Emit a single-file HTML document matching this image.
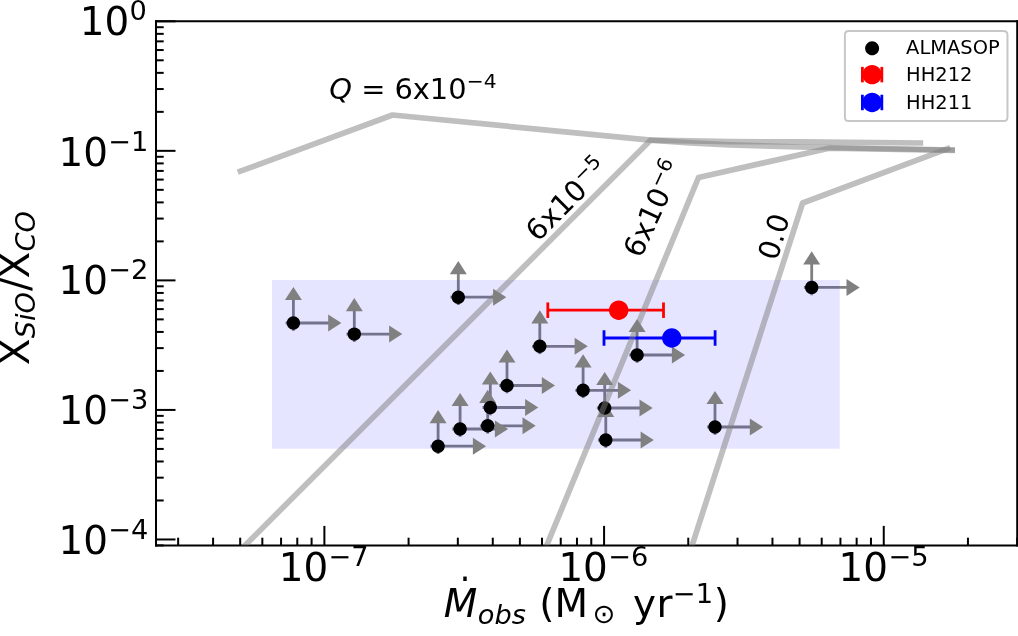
<!DOCTYPE html>
<html><head><meta charset="utf-8"><title>plot</title>
<style>html,body{margin:0;padding:0;background:#fff;}body{width:1018px;height:636px;overflow:hidden;}svg{display:block;}
text{font-family:"DejaVu Sans",sans-serif;}</style></head>
<body>
<svg width="1018" height="636" viewBox="0 0 732.96 457.92" version="1.1"> <defs> <style type="text/css">*{stroke-linejoin: round; stroke-linecap: butt}</style> </defs> <g id="figure_1"> <g id="patch_1"> <path d="M 0 457.92 L 732.96 457.92 L 732.96 0 L 0 0 z " style="fill: #ffffff"/> </g> <g id="axes_1"> <g id="patch_2"> <path d="M 112.32 392.688 L 732.384 392.688 L 732.384 15.336 L 112.32 15.336 z " style="fill: #ffffff"/> </g> <g id="line2d_1"> <path d="M 211.248 238.176 L 211.248 215.352 " clip-path="url(#p5d5865114e)" style="fill: none; stroke: #808080; stroke-width: 2.016"/> </g> <g id="line2d_2"> <path d="M 205.632 232.56 L 237.024 232.56 " clip-path="url(#p5d5865114e)" style="fill: none; stroke: #808080; stroke-width: 2.016"/> </g> <g id="line2d_3"> <path d="M 255.096 246.168 L 255.096 223.344 " clip-path="url(#p5d5865114e)" style="fill: none; stroke: #808080; stroke-width: 2.016"/> </g> <g id="line2d_4"> <path d="M 249.48 240.552 L 280.872 240.552 " clip-path="url(#p5d5865114e)" style="fill: none; stroke: #808080; stroke-width: 2.016"/> </g> <g id="line2d_5"> <path d="M 329.976 219.6 L 329.976 196.776 " clip-path="url(#p5d5865114e)" style="fill: none; stroke: #808080; stroke-width: 2.016"/> </g> <g id="line2d_6"> <path d="M 324.36 213.984 L 355.752 213.984 " clip-path="url(#p5d5865114e)" style="fill: none; stroke: #808080; stroke-width: 2.016"/> </g> <g id="line2d_7"> <path d="M 388.656 254.952 L 388.656 232.128 " clip-path="url(#p5d5865114e)" style="fill: none; stroke: #808080; stroke-width: 2.016"/> </g> <g id="line2d_8"> <path d="M 383.04 249.336 L 414.432 249.336 " clip-path="url(#p5d5865114e)" style="fill: none; stroke: #808080; stroke-width: 2.016"/> </g> <g id="line2d_9"> <path d="M 365.04 283.176 L 365.04 260.352 " clip-path="url(#p5d5865114e)" style="fill: none; stroke: #808080; stroke-width: 2.016"/> </g> <g id="line2d_10"> <path d="M 359.424 277.56 L 390.816 277.56 " clip-path="url(#p5d5865114e)" style="fill: none; stroke: #808080; stroke-width: 2.016"/> </g> <g id="line2d_11"> <path d="M 353.016 299.016 L 353.016 276.192 " clip-path="url(#p5d5865114e)" style="fill: none; stroke: #808080; stroke-width: 2.016"/> </g> <g id="line2d_12"> <path d="M 347.4 293.4 L 378.792 293.4 " clip-path="url(#p5d5865114e)" style="fill: none; stroke: #808080; stroke-width: 2.016"/> </g> <g id="line2d_13"> <path d="M 331.272 314.496 L 331.272 291.672 " clip-path="url(#p5d5865114e)" style="fill: none; stroke: #808080; stroke-width: 2.016"/> </g> <g id="line2d_14"> <path d="M 325.656 308.88 L 357.048 308.88 " clip-path="url(#p5d5865114e)" style="fill: none; stroke: #808080; stroke-width: 2.016"/> </g> <g id="line2d_15"> <path d="M 315.432 326.88 L 315.432 304.056 " clip-path="url(#p5d5865114e)" style="fill: none; stroke: #808080; stroke-width: 2.016"/> </g> <g id="line2d_16"> <path d="M 309.816 321.264 L 341.208 321.264 " clip-path="url(#p5d5865114e)" style="fill: none; stroke: #808080; stroke-width: 2.016"/> </g> <g id="line2d_17"> <path d="M 351.144 312.192 L 351.144 289.368 " clip-path="url(#p5d5865114e)" style="fill: none; stroke: #808080; stroke-width: 2.016"/> </g> <g id="line2d_18"> <path d="M 345.528 306.576 L 376.92 306.576 " clip-path="url(#p5d5865114e)" style="fill: none; stroke: #808080; stroke-width: 2.016"/> </g> <g id="line2d_19"> <path d="M 419.832 286.632 L 419.832 263.808 " clip-path="url(#p5d5865114e)" style="fill: none; stroke: #808080; stroke-width: 2.016"/> </g> <g id="line2d_20"> <path d="M 414.216 281.016 L 445.608 281.016 " clip-path="url(#p5d5865114e)" style="fill: none; stroke: #808080; stroke-width: 2.016"/> </g> <g id="line2d_21"> <path d="M 435.384 299.376 L 435.384 276.552 " clip-path="url(#p5d5865114e)" style="fill: none; stroke: #808080; stroke-width: 2.016"/> </g> <g id="line2d_22"> <path d="M 429.768 293.76 L 461.16 293.76 " clip-path="url(#p5d5865114e)" style="fill: none; stroke: #808080; stroke-width: 2.016"/> </g> <g id="line2d_23"> <path d="M 436.176 322.416 L 436.176 299.592 " clip-path="url(#p5d5865114e)" style="fill: none; stroke: #808080; stroke-width: 2.016"/> </g> <g id="line2d_24"> <path d="M 430.56 316.8 L 461.952 316.8 " clip-path="url(#p5d5865114e)" style="fill: none; stroke: #808080; stroke-width: 2.016"/> </g> <g id="line2d_25"> <path d="M 458.712 261.216 L 458.712 238.392 " clip-path="url(#p5d5865114e)" style="fill: none; stroke: #808080; stroke-width: 2.016"/> </g> <g id="line2d_26"> <path d="M 453.096 255.6 L 484.488 255.6 " clip-path="url(#p5d5865114e)" style="fill: none; stroke: #808080; stroke-width: 2.016"/> </g> <g id="line2d_27"> <path d="M 514.8 313.056 L 514.8 290.232 " clip-path="url(#p5d5865114e)" style="fill: none; stroke: #808080; stroke-width: 2.016"/> </g> <g id="line2d_28"> <path d="M 509.184 307.44 L 540.576 307.44 " clip-path="url(#p5d5865114e)" style="fill: none; stroke: #808080; stroke-width: 2.016"/> </g> <g id="line2d_29"> <path d="M 584.424 212.544 L 584.424 189.72 " clip-path="url(#p5d5865114e)" style="fill: none; stroke: #808080; stroke-width: 2.016"/> </g> <g id="line2d_30"> <path d="M 578.808 206.928 L 610.2 206.928 " clip-path="url(#p5d5865114e)" style="fill: none; stroke: #808080; stroke-width: 2.016"/> </g> <g id="matplotlib.axis_1"> <g id="xtick_1"> <g id="line2d_31"> <g> <path d="M 0 0 L 0 -14.04 " transform="translate(233.558633 392.688)" style="stroke: #000000; stroke-width: 1.44"/> </g> </g> <g id="text_1"> <g transform="translate(200.6586 419.5076)"> <text> <tspan x="0" y="-0.996875" style="font-size: 28px; font-family: 'DejaVu Sans', sans-serif">1</tspan> <tspan x="17.814453" y="-0.996875" style="font-size: 28px; font-family: 'DejaVu Sans', sans-serif">0</tspan> <tspan x="35.896875" y="-11.715625" style="font-size: 19.6px; font-family: 'DejaVu Sans', sans-serif">−</tspan> <tspan x="52.319531" y="-11.715625" style="font-size: 19.6px; font-family: 'DejaVu Sans', sans-serif">7</tspan> </text> </g> </g> </g> <g id="xtick_2"> <g id="line2d_32"> <g> <path d="M 0 0 L 0 -14.04 " transform="translate(434.931645 392.688)" style="stroke: #000000; stroke-width: 1.44"/> </g> </g> <g id="text_2"> <g transform="translate(402.0316 419.0756)"> <text> <tspan x="0" y="-0.734375" style="font-size: 28px; font-family: 'DejaVu Sans', sans-serif">1</tspan> <tspan x="17.814453" y="-0.734375" style="font-size: 28px; font-family: 'DejaVu Sans', sans-serif">0</tspan> <tspan x="35.896875" y="-11.453125" style="font-size: 19.6px; font-family: 'DejaVu Sans', sans-serif">−</tspan> <tspan x="52.319531" y="-11.453125" style="font-size: 19.6px; font-family: 'DejaVu Sans', sans-serif">6</tspan> </text> </g> </g> </g> <g id="xtick_3"> <g id="line2d_33"> <g> <path d="M 0 0 L 0 -14.04 " transform="translate(636.304656 392.688)" style="stroke: #000000; stroke-width: 1.44"/> </g> </g> <g id="text_3"> <g transform="translate(603.7647 419.0756)"> <text> <tspan x="0" y="-0.996875" style="font-size: 28px; font-family: 'DejaVu Sans', sans-serif">1</tspan> <tspan x="17.814453" y="-0.996875" style="font-size: 28px; font-family: 'DejaVu Sans', sans-serif">0</tspan> <tspan x="35.896875" y="-11.715625" style="font-size: 19.6px; font-family: 'DejaVu Sans', sans-serif">−</tspan> <tspan x="52.319531" y="-11.715625" style="font-size: 19.6px; font-family: 'DejaVu Sans', sans-serif">5</tspan> </text> </g> </g> </g> <g id="xtick_4"> <g id="line2d_34"> <g> <path d="M 0 0 L 0 -5.544 " transform="translate(128.264966 392.688)" style="stroke: #000000; stroke-width: 1.44"/> </g> </g> </g> <g id="xtick_5"> <g id="line2d_35"> <g> <path d="M 0 0 L 0 -5.544 " transform="translate(153.424256 392.688)" style="stroke: #000000; stroke-width: 1.44"/> </g> </g> </g> <g id="xtick_6"> <g id="line2d_36"> <g> <path d="M 0 0 L 0 -5.544 " transform="translate(172.939317 392.688)" style="stroke: #000000; stroke-width: 1.44"/> </g> </g> </g> <g id="xtick_7"> <g id="line2d_37"> <g> <path d="M 0 0 L 0 -5.544 " transform="translate(188.884283 392.688)" style="stroke: #000000; stroke-width: 1.44"/> </g> </g> </g> <g id="xtick_8"> <g id="line2d_38"> <g> <path d="M 0 0 L 0 -5.544 " transform="translate(202.365559 392.688)" style="stroke: #000000; stroke-width: 1.44"/> </g> </g> </g> <g id="xtick_9"> <g id="line2d_39"> <g> <path d="M 0 0 L 0 -5.544 " transform="translate(214.043572 392.688)" style="stroke: #000000; stroke-width: 1.44"/> </g> </g> </g> <g id="xtick_10"> <g id="line2d_40"> <g> <path d="M 0 0 L 0 -5.544 " transform="translate(224.34431 392.688)" style="stroke: #000000; stroke-width: 1.44"/> </g> </g> </g> <g id="xtick_11"> <g id="line2d_41"> <g> <path d="M 0 0 L 0 -5.544 " transform="translate(294.17795 392.688)" style="stroke: #000000; stroke-width: 1.44"/> </g> </g> </g> <g id="xtick_12"> <g id="line2d_42"> <g> <path d="M 0 0 L 0 -5.544 " transform="translate(329.637977 392.688)" style="stroke: #000000; stroke-width: 1.44"/> </g> </g> </g> <g id="xtick_13"> <g id="line2d_43"> <g> <path d="M 0 0 L 0 -5.544 " transform="translate(354.797267 392.688)" style="stroke: #000000; stroke-width: 1.44"/> </g> </g> </g> <g id="xtick_14"> <g id="line2d_44"> <g> <path d="M 0 0 L 0 -5.544 " transform="translate(374.312328 392.688)" style="stroke: #000000; stroke-width: 1.44"/> </g> </g> </g> <g id="xtick_15"> <g id="line2d_45"> <g> <path d="M 0 0 L 0 -5.544 " transform="translate(390.257294 392.688)" style="stroke: #000000; stroke-width: 1.44"/> </g> </g> </g> <g id="xtick_16"> <g id="line2d_46"> <g> <path d="M 0 0 L 0 -5.544 " transform="translate(403.738571 392.688)" style="stroke: #000000; stroke-width: 1.44"/> </g> </g> </g> <g id="xtick_17"> <g id="line2d_47"> <g> <path d="M 0 0 L 0 -5.544 " transform="translate(415.416584 392.688)" style="stroke: #000000; stroke-width: 1.44"/> </g> </g> </g> <g id="xtick_18"> <g id="line2d_48"> <g> <path d="M 0 0 L 0 -5.544 " transform="translate(425.717321 392.688)" style="stroke: #000000; stroke-width: 1.44"/> </g> </g> </g> <g id="xtick_19"> <g id="line2d_49"> <g> <path d="M 0 0 L 0 -5.544 " transform="translate(495.550962 392.688)" style="stroke: #000000; stroke-width: 1.44"/> </g> </g> </g> <g id="xtick_20"> <g id="line2d_50"> <g> <path d="M 0 0 L 0 -5.544 " transform="translate(531.010989 392.688)" style="stroke: #000000; stroke-width: 1.44"/> </g> </g> </g> <g id="xtick_21"> <g id="line2d_51"> <g> <path d="M 0 0 L 0 -5.544 " transform="translate(556.170278 392.688)" style="stroke: #000000; stroke-width: 1.44"/> </g> </g> </g> <g id="xtick_22"> <g id="line2d_52"> <g> <path d="M 0 0 L 0 -5.544 " transform="translate(575.685339 392.688)" style="stroke: #000000; stroke-width: 1.44"/> </g> </g> </g> <g id="xtick_23"> <g id="line2d_53"> <g> <path d="M 0 0 L 0 -5.544 " transform="translate(591.630305 392.688)" style="stroke: #000000; stroke-width: 1.44"/> </g> </g> </g> <g id="xtick_24"> <g id="line2d_54"> <g> <path d="M 0 0 L 0 -5.544 " transform="translate(605.111582 392.688)" style="stroke: #000000; stroke-width: 1.44"/> </g> </g> </g> <g id="xtick_25"> <g id="line2d_55"> <g> <path d="M 0 0 L 0 -5.544 " transform="translate(616.789595 392.688)" style="stroke: #000000; stroke-width: 1.44"/> </g> </g> </g> <g id="xtick_26"> <g id="line2d_56"> <g> <path d="M 0 0 L 0 -5.544 " transform="translate(627.090332 392.688)" style="stroke: #000000; stroke-width: 1.44"/> </g> </g> </g> <g id="xtick_27"> <g id="line2d_57"> <g> <path d="M 0 0 L 0 -5.544 " transform="translate(696.923973 392.688)" style="stroke: #000000; stroke-width: 1.44"/> </g> </g> </g> <g id="xtick_28"> <g id="line2d_58"> <g> <path d="M 0 0 L 0 -5.544 " transform="translate(732.384 392.688)" style="stroke: #000000; stroke-width: 1.44"/> </g> </g> </g> <g id="text_4"> <g transform="translate(319.54 445.04275)"> <text> <tspan x="22.3208" y="-8.7188" style="font-size: 28px; font-family: 'DejaVu Sans', sans-serif">̇</tspan> <tspan x="59.8363" y="-0.5000" style="font-size: 28px; font-family: 'DejaVu Sans', sans-serif"> </tspan> <tspan x="68.7367" y="-0.5000" style="font-size: 28px; font-family: 'DejaVu Sans', sans-serif">(</tspan> <tspan x="79.6605" y="-0.5000" style="font-size: 28px; font-family: 'DejaVu Sans', sans-serif">M</tspan> <tspan x="128.9121" y="-0.5000" style="font-size: 28px; font-family: 'DejaVu Sans', sans-serif"> </tspan> <tspan x="136.2125" y="-0.5000" style="font-size: 28px; font-family: 'DejaVu Sans', sans-serif">y</tspan> <tspan x="153.0828" y="-0.5000" style="font-size: 28px; font-family: 'DejaVu Sans', sans-serif">r</tspan> <tspan x="194.3709" y="-0.5000" style="font-size: 28px; font-family: 'DejaVu Sans', sans-serif">)</tspan> <tspan x="0.0000" y="-0.5000" style="font-style: oblique; font-size: 28px; font-family: 'DejaVu Sans', sans-serif">M</tspan> <tspan x="24.4262" y="4.0938" style="font-style: oblique; font-size: 19.6px; font-family: 'DejaVu Sans', sans-serif">o</tspan> <tspan x="36.4178" y="4.0938" style="font-style: oblique; font-size: 19.6px; font-family: 'DejaVu Sans', sans-serif">b</tspan> <tspan x="48.8592" y="4.0938" style="font-style: oblique; font-size: 19.6px; font-family: 'DejaVu Sans', sans-serif">s</tspan> <tspan x="107.3253" y="3.5938" style="font-size: 19.6px; font-family: 'DejaVu Sans', sans-serif">⊙</tspan> <tspan x="164.7625" y="-11.2188" style="font-size: 19.6px; font-family: 'DejaVu Sans', sans-serif">−</tspan> <tspan x="181.3352" y="-11.2188" style="font-size: 19.6px; font-family: 'DejaVu Sans', sans-serif">1</tspan> </text> </g> </g> </g> <g id="matplotlib.axis_2"> <g id="ytick_1"> <g id="line2d_59"> <g> <path d="M 0 0 L 14.04 0 " transform="translate(112.32 388.420151)" style="stroke: #000000; stroke-width: 1.44"/> </g> </g> <g id="text_5"> <g transform="translate(42.0560 399.9940)"> <text> <tspan x="0" y="-0.996875" style="font-size: 28px; font-family: 'DejaVu Sans', sans-serif">1</tspan> <tspan x="17.814453" y="-0.996875" style="font-size: 28px; font-family: 'DejaVu Sans', sans-serif">0</tspan> <tspan x="35.896875" y="-11.715625" style="font-size: 19.6px; font-family: 'DejaVu Sans', sans-serif">−</tspan> <tspan x="52.319531" y="-11.715625" style="font-size: 19.6px; font-family: 'DejaVu Sans', sans-serif">4</tspan> </text> </g> </g> </g> <g id="ytick_2"> <g id="line2d_60"> <g> <path d="M 0 0 L 14.04 0 " transform="translate(112.32 295.149114)" style="stroke: #000000; stroke-width: 1.44"/> </g> </g> <g id="text_6"> <g transform="translate(42.0560 305.7869)"> <text> <tspan x="0" y="-0.734375" style="font-size: 28px; font-family: 'DejaVu Sans', sans-serif">1</tspan> <tspan x="17.814453" y="-0.734375" style="font-size: 28px; font-family: 'DejaVu Sans', sans-serif">0</tspan> <tspan x="35.896875" y="-11.453125" style="font-size: 19.6px; font-family: 'DejaVu Sans', sans-serif">−</tspan> <tspan x="52.319531" y="-11.453125" style="font-size: 19.6px; font-family: 'DejaVu Sans', sans-serif">3</tspan> </text> </g> </g> </g> <g id="ytick_3"> <g id="line2d_61"> <g> <path d="M 0 0 L 14.04 0 " transform="translate(112.32 201.878076)" style="stroke: #000000; stroke-width: 1.44"/> </g> </g> <g id="text_7"> <g transform="translate(42.0560 212.5159)"> <text> <tspan x="0" y="-0.734375" style="font-size: 28px; font-family: 'DejaVu Sans', sans-serif">1</tspan> <tspan x="17.814453" y="-0.734375" style="font-size: 28px; font-family: 'DejaVu Sans', sans-serif">0</tspan> <tspan x="35.896875" y="-11.453125" style="font-size: 19.6px; font-family: 'DejaVu Sans', sans-serif">−</tspan> <tspan x="52.319531" y="-11.453125" style="font-size: 19.6px; font-family: 'DejaVu Sans', sans-serif">2</tspan> </text> </g> </g> </g> <g id="ytick_4"> <g id="line2d_62"> <g> <path d="M 0 0 L 14.04 0 " transform="translate(112.32 108.607038)" style="stroke: #000000; stroke-width: 1.44"/> </g> </g> <g id="text_8"> <g transform="translate(42.0560 120.3969)"> <text> <tspan x="0" y="-0.996875" style="font-size: 28px; font-family: 'DejaVu Sans', sans-serif">1</tspan> <tspan x="17.814453" y="-0.996875" style="font-size: 28px; font-family: 'DejaVu Sans', sans-serif">0</tspan> <tspan x="35.896875" y="-11.715625" style="font-size: 19.6px; font-family: 'DejaVu Sans', sans-serif">−</tspan> <tspan x="52.319531" y="-11.715625" style="font-size: 19.6px; font-family: 'DejaVu Sans', sans-serif">1</tspan> </text> </g> </g> </g> <g id="ytick_5"> <g id="line2d_63"> <g> <path d="M 0 0 L 14.04 0 " transform="translate(112.32 15.336)" style="stroke: #000000; stroke-width: 1.44"/> </g> </g> <g id="text_9"> <g transform="translate(57.4240 25.9738)"> <text> <tspan x="0" y="-0.734375" style="font-size: 28px; font-family: 'DejaVu Sans', sans-serif">1</tspan> <tspan x="17.814453" y="-0.734375" style="font-size: 28px; font-family: 'DejaVu Sans', sans-serif">0</tspan> <tspan x="35.896875" y="-11.453125" style="font-size: 19.6px; font-family: 'DejaVu Sans', sans-serif">0</tspan> </text> </g> </g> </g> <g id="ytick_6"> <g id="line2d_64"> <g> <path d="M 0 0 L 5.544 0 " transform="translate(112.32 392.688)" style="stroke: #000000; stroke-width: 1.44"/> </g> </g> </g> <g id="ytick_7"> <g id="line2d_65"> <g> <path d="M 0 0 L 5.544 0 " transform="translate(112.32 360.342771)" style="stroke: #000000; stroke-width: 1.44"/> </g> </g> </g> <g id="ytick_8"> <g id="line2d_66"> <g> <path d="M 0 0 L 5.544 0 " transform="translate(112.32 343.918557)" style="stroke: #000000; stroke-width: 1.44"/> </g> </g> </g> <g id="ytick_9"> <g id="line2d_67"> <g> <path d="M 0 0 L 5.544 0 " transform="translate(112.32 332.265391)" style="stroke: #000000; stroke-width: 1.44"/> </g> </g> </g> <g id="ytick_10"> <g id="line2d_68"> <g> <path d="M 0 0 L 5.544 0 " transform="translate(112.32 323.226494)" style="stroke: #000000; stroke-width: 1.44"/> </g> </g> </g> <g id="ytick_11"> <g id="line2d_69"> <g> <path d="M 0 0 L 5.544 0 " transform="translate(112.32 315.841177)" style="stroke: #000000; stroke-width: 1.44"/> </g> </g> </g> <g id="ytick_12"> <g id="line2d_70"> <g> <path d="M 0 0 L 5.544 0 " transform="translate(112.32 309.59698)" style="stroke: #000000; stroke-width: 1.44"/> </g> </g> </g> <g id="ytick_13"> <g id="line2d_71"> <g> <path d="M 0 0 L 5.544 0 " transform="translate(112.32 304.188011)" style="stroke: #000000; stroke-width: 1.44"/> </g> </g> </g> <g id="ytick_14"> <g id="line2d_72"> <g> <path d="M 0 0 L 5.544 0 " transform="translate(112.32 299.416962)" style="stroke: #000000; stroke-width: 1.44"/> </g> </g> </g> <g id="ytick_15"> <g id="line2d_73"> <g> <path d="M 0 0 L 5.544 0 " transform="translate(112.32 267.071733)" style="stroke: #000000; stroke-width: 1.44"/> </g> </g> </g> <g id="ytick_16"> <g id="line2d_74"> <g> <path d="M 0 0 L 5.544 0 " transform="translate(112.32 250.647519)" style="stroke: #000000; stroke-width: 1.44"/> </g> </g> </g> <g id="ytick_17"> <g id="line2d_75"> <g> <path d="M 0 0 L 5.544 0 " transform="translate(112.32 238.994353)" style="stroke: #000000; stroke-width: 1.44"/> </g> </g> </g> <g id="ytick_18"> <g id="line2d_76"> <g> <path d="M 0 0 L 5.544 0 " transform="translate(112.32 229.955456)" style="stroke: #000000; stroke-width: 1.44"/> </g> </g> </g> <g id="ytick_19"> <g id="line2d_77"> <g> <path d="M 0 0 L 5.544 0 " transform="translate(112.32 222.570139)" style="stroke: #000000; stroke-width: 1.44"/> </g> </g> </g> <g id="ytick_20"> <g id="line2d_78"> <g> <path d="M 0 0 L 5.544 0 " transform="translate(112.32 216.325942)" style="stroke: #000000; stroke-width: 1.44"/> </g> </g> </g> <g id="ytick_21"> <g id="line2d_79"> <g> <path d="M 0 0 L 5.544 0 " transform="translate(112.32 210.916973)" style="stroke: #000000; stroke-width: 1.44"/> </g> </g> </g> <g id="ytick_22"> <g id="line2d_80"> <g> <path d="M 0 0 L 5.544 0 " transform="translate(112.32 206.145924)" style="stroke: #000000; stroke-width: 1.44"/> </g> </g> </g> <g id="ytick_23"> <g id="line2d_81"> <g> <path d="M 0 0 L 5.544 0 " transform="translate(112.32 173.800696)" style="stroke: #000000; stroke-width: 1.44"/> </g> </g> </g> <g id="ytick_24"> <g id="line2d_82"> <g> <path d="M 0 0 L 5.544 0 " transform="translate(112.32 157.376481)" style="stroke: #000000; stroke-width: 1.44"/> </g> </g> </g> <g id="ytick_25"> <g id="line2d_83"> <g> <path d="M 0 0 L 5.544 0 " transform="translate(112.32 145.723315)" style="stroke: #000000; stroke-width: 1.44"/> </g> </g> </g> <g id="ytick_26"> <g id="line2d_84"> <g> <path d="M 0 0 L 5.544 0 " transform="translate(112.32 136.684418)" style="stroke: #000000; stroke-width: 1.44"/> </g> </g> </g> <g id="ytick_27"> <g id="line2d_85"> <g> <path d="M 0 0 L 5.544 0 " transform="translate(112.32 129.299101)" style="stroke: #000000; stroke-width: 1.44"/> </g> </g> </g> <g id="ytick_28"> <g id="line2d_86"> <g> <path d="M 0 0 L 5.544 0 " transform="translate(112.32 123.054904)" style="stroke: #000000; stroke-width: 1.44"/> </g> </g> </g> <g id="ytick_29"> <g id="line2d_87"> <g> <path d="M 0 0 L 5.544 0 " transform="translate(112.32 117.645935)" style="stroke: #000000; stroke-width: 1.44"/> </g> </g> </g> <g id="ytick_30"> <g id="line2d_88"> <g> <path d="M 0 0 L 5.544 0 " transform="translate(112.32 112.874886)" style="stroke: #000000; stroke-width: 1.44"/> </g> </g> </g> <g id="ytick_31"> <g id="line2d_89"> <g> <path d="M 0 0 L 5.544 0 " transform="translate(112.32 80.529658)" style="stroke: #000000; stroke-width: 1.44"/> </g> </g> </g> <g id="ytick_32"> <g id="line2d_90"> <g> <path d="M 0 0 L 5.544 0 " transform="translate(112.32 64.105443)" style="stroke: #000000; stroke-width: 1.44"/> </g> </g> </g> <g id="ytick_33"> <g id="line2d_91"> <g> <path d="M 0 0 L 5.544 0 " transform="translate(112.32 52.452278)" style="stroke: #000000; stroke-width: 1.44"/> </g> </g> </g> <g id="ytick_34"> <g id="line2d_92"> <g> <path d="M 0 0 L 5.544 0 " transform="translate(112.32 43.41338)" style="stroke: #000000; stroke-width: 1.44"/> </g> </g> </g> <g id="ytick_35"> <g id="line2d_93"> <g> <path d="M 0 0 L 5.544 0 " transform="translate(112.32 36.028063)" style="stroke: #000000; stroke-width: 1.44"/> </g> </g> </g> <g id="ytick_36"> <g id="line2d_94"> <g> <path d="M 0 0 L 5.544 0 " transform="translate(112.32 29.783867)" style="stroke: #000000; stroke-width: 1.44"/> </g> </g> </g> <g id="ytick_37"> <g id="line2d_95"> <g> <path d="M 0 0 L 5.544 0 " transform="translate(112.32 24.374897)" style="stroke: #000000; stroke-width: 1.44"/> </g> </g> </g> <g id="ytick_38"> <g id="line2d_96"> <g> <path d="M 0 0 L 5.544 0 " transform="translate(112.32 19.603849)" style="stroke: #000000; stroke-width: 1.44"/> </g> </g> </g> <g id="text_10"> <g transform="translate(21.360875 263.036) rotate(-90)"> <text> <tspan x="0" y="-0.59375" style="font-size: 28px; font-family: 'DejaVu Sans', sans-serif">X</tspan> <tspan x="53.529492" y="-0.59375" style="font-size: 28px; font-family: 'DejaVu Sans', sans-serif">/</tspan> <tspan x="62.463086" y="-0.59375" style="font-size: 28px; font-family: 'DejaVu Sans', sans-serif">X</tspan> <tspan x="19.449609" y="4" style="font-style: oblique; font-size: 19.6px; font-family: 'DejaVu Sans', sans-serif">S</tspan> <tspan x="31.891016" y="4" style="font-style: oblique; font-size: 19.6px; font-family: 'DejaVu Sans', sans-serif">i</tspan> <tspan x="37.336523" y="4" style="font-style: oblique; font-size: 19.6px; font-family: 'DejaVu Sans', sans-serif">O</tspan> <tspan x="81.912695" y="4" style="font-style: oblique; font-size: 19.6px; font-family: 'DejaVu Sans', sans-serif">C</tspan> <tspan x="95.598242" y="4" style="font-style: oblique; font-size: 19.6px; font-family: 'DejaVu Sans', sans-serif">O</tspan> </text> </g> </g> </g> <g id="patch_3"> <path d="M 195.84 323.136 L 604.656 323.136 L 604.656 201.6 L 195.84 201.6 z " clip-path="url(#p5d5865114e)" style="fill: #0000ff; opacity: 0.1"/> </g> <g id="patch_4"> <path d="M 205.128 216.072 L 217.368 216.072 L 211.248 206.568 z " clip-path="url(#p5d5865114e)" style="fill: #808080"/> </g> <g id="patch_5"> <path d="M 236.304 226.44 L 236.304 238.68 L 245.808 232.56 z " clip-path="url(#p5d5865114e)" style="fill: #808080"/> </g> <g id="patch_6"> <path d="M 248.976 224.064 L 261.216 224.064 L 255.096 214.56 z " clip-path="url(#p5d5865114e)" style="fill: #808080"/> </g> <g id="patch_7"> <path d="M 280.152 234.432 L 280.152 246.672 L 289.656 240.552 z " clip-path="url(#p5d5865114e)" style="fill: #808080"/> </g> <g id="patch_8"> <path d="M 323.856 197.496 L 336.096 197.496 L 329.976 187.992 z " clip-path="url(#p5d5865114e)" style="fill: #808080"/> </g> <g id="patch_9"> <path d="M 355.032 207.864 L 355.032 220.104 L 364.536 213.984 z " clip-path="url(#p5d5865114e)" style="fill: #808080"/> </g> <g id="patch_10"> <path d="M 382.536 232.848 L 394.776 232.848 L 388.656 223.344 z " clip-path="url(#p5d5865114e)" style="fill: #808080"/> </g> <g id="patch_11"> <path d="M 413.712 243.216 L 413.712 255.456 L 423.216 249.336 z " clip-path="url(#p5d5865114e)" style="fill: #808080"/> </g> <g id="patch_12"> <path d="M 358.92 261.072 L 371.16 261.072 L 365.04 251.568 z " clip-path="url(#p5d5865114e)" style="fill: #808080"/> </g> <g id="patch_13"> <path d="M 390.096 271.44 L 390.096 283.68 L 399.6 277.56 z " clip-path="url(#p5d5865114e)" style="fill: #808080"/> </g> <g id="patch_14"> <path d="M 346.896 276.912 L 359.136 276.912 L 353.016 267.408 z " clip-path="url(#p5d5865114e)" style="fill: #808080"/> </g> <g id="patch_15"> <path d="M 378.072 287.28 L 378.072 299.52 L 387.576 293.4 z " clip-path="url(#p5d5865114e)" style="fill: #808080"/> </g> <g id="patch_16"> <path d="M 325.152 292.392 L 337.392 292.392 L 331.272 282.888 z " clip-path="url(#p5d5865114e)" style="fill: #808080"/> </g> <g id="patch_17"> <path d="M 356.328 302.76 L 356.328 315 L 365.832 308.88 z " clip-path="url(#p5d5865114e)" style="fill: #808080"/> </g> <g id="patch_18"> <path d="M 309.312 304.776 L 321.552 304.776 L 315.432 295.272 z " clip-path="url(#p5d5865114e)" style="fill: #808080"/> </g> <g id="patch_19"> <path d="M 340.488 315.144 L 340.488 327.384 L 349.992 321.264 z " clip-path="url(#p5d5865114e)" style="fill: #808080"/> </g> <g id="patch_20"> <path d="M 345.024 290.088 L 357.264 290.088 L 351.144 280.584 z " clip-path="url(#p5d5865114e)" style="fill: #808080"/> </g> <g id="patch_21"> <path d="M 376.2 300.456 L 376.2 312.696 L 385.704 306.576 z " clip-path="url(#p5d5865114e)" style="fill: #808080"/> </g> <g id="patch_22"> <path d="M 413.712 264.528 L 425.952 264.528 L 419.832 255.024 z " clip-path="url(#p5d5865114e)" style="fill: #808080"/> </g> <g id="patch_23"> <path d="M 444.888 274.896 L 444.888 287.136 L 454.392 281.016 z " clip-path="url(#p5d5865114e)" style="fill: #808080"/> </g> <g id="patch_24"> <path d="M 429.264 277.272 L 441.504 277.272 L 435.384 267.768 z " clip-path="url(#p5d5865114e)" style="fill: #808080"/> </g> <g id="patch_25"> <path d="M 460.44 287.64 L 460.44 299.88 L 469.944 293.76 z " clip-path="url(#p5d5865114e)" style="fill: #808080"/> </g> <g id="patch_26"> <path d="M 430.056 300.312 L 442.296 300.312 L 436.176 290.808 z " clip-path="url(#p5d5865114e)" style="fill: #808080"/> </g> <g id="patch_27"> <path d="M 461.232 310.68 L 461.232 322.92 L 470.736 316.8 z " clip-path="url(#p5d5865114e)" style="fill: #808080"/> </g> <g id="patch_28"> <path d="M 452.592 239.112 L 464.832 239.112 L 458.712 229.608 z " clip-path="url(#p5d5865114e)" style="fill: #808080"/> </g> <g id="patch_29"> <path d="M 483.768 249.48 L 483.768 261.72 L 493.272 255.6 z " clip-path="url(#p5d5865114e)" style="fill: #808080"/> </g> <g id="patch_30"> <path d="M 508.68 290.952 L 520.92 290.952 L 514.8 281.448 z " clip-path="url(#p5d5865114e)" style="fill: #808080"/> </g> <g id="patch_31"> <path d="M 539.856 301.32 L 539.856 313.56 L 549.36 307.44 z " clip-path="url(#p5d5865114e)" style="fill: #808080"/> </g> <g id="patch_32"> <path d="M 578.304 190.44 L 590.544 190.44 L 584.424 180.936 z " clip-path="url(#p5d5865114e)" style="fill: #808080"/> </g> <g id="patch_33"> <path d="M 609.48 200.808 L 609.48 213.048 L 618.984 206.928 z " clip-path="url(#p5d5865114e)" style="fill: #808080"/> </g> <g id="patch_34"> <path d="M 112.32 392.688 L 112.32 15.336 " style="fill: none; stroke: #000000; stroke-width: 1.44; stroke-linejoin: miter; stroke-linecap: square"/> </g> <g id="patch_35"> <path d="M 732.384 392.688 L 732.384 15.336 " style="fill: none; stroke: #000000; stroke-width: 1.44; stroke-linejoin: miter; stroke-linecap: square"/> </g> <g id="patch_36"> <path d="M 112.32 392.688 L 732.384 392.688 " style="fill: none; stroke: #000000; stroke-width: 1.44; stroke-linejoin: miter; stroke-linecap: square"/> </g> <g id="patch_37"> <path d="M 112.32 15.336 L 732.384 15.336 " style="fill: none; stroke: #000000; stroke-width: 1.44; stroke-linejoin: miter; stroke-linecap: square"/> </g> <g id="LineCollection_1"> <path d="M 394.416 223.344 L 477.72 223.344 " clip-path="url(#p5d5865114e)" style="fill: none; stroke: #ff0000; stroke-width: 2.016"/> </g> <g id="line2d_97"> <g clip-path="url(#p5d5865114e)"> <path d="M 0 5.58 L 0 -5.58 " transform="translate(394.416 223.344)" style="fill: #ff0000; stroke: #ff0000; stroke-width: 2.016"/> </g> </g> <g id="line2d_98"> <g clip-path="url(#p5d5865114e)"> <path d="M 0 5.58 L 0 -5.58 " transform="translate(477.72 223.344)" style="fill: #ff0000; stroke: #ff0000; stroke-width: 2.016"/> </g> </g> <g id="LineCollection_2"> <path d="M 434.88 243.36 L 514.872 243.36 " clip-path="url(#p5d5865114e)" style="fill: none; stroke: #0000ff; stroke-width: 2.016"/> </g> <g id="line2d_99"> <g clip-path="url(#p5d5865114e)"> <path d="M 0 5.58 L 0 -5.58 " transform="translate(434.88 243.36)" style="fill: #0000ff; stroke: #0000ff; stroke-width: 2.016"/> </g> </g> <g id="line2d_100"> <g clip-path="url(#p5d5865114e)"> <path d="M 0 5.58 L 0 -5.58 " transform="translate(514.872 243.36)" style="fill: #0000ff; stroke: #0000ff; stroke-width: 2.016"/> </g> </g> <g id="line2d_101"> <g clip-path="url(#p5d5865114e)"> <path d="M 0 6.984 C 1.852178 6.984 3.628746 6.248122 4.938434 4.938434 C 6.248122 3.628746 6.984 1.852178 6.984 0 C 6.984 -1.852178 6.248122 -3.628746 4.938434 -4.938434 C 3.628746 -6.248122 1.852178 -6.984 0 -6.984 C -1.852178 -6.984 -3.628746 -6.248122 -4.938434 -4.938434 C -6.248122 -3.628746 -6.984 -1.852178 -6.984 0 C -6.984 1.852178 -6.248122 3.628746 -4.938434 4.938434 C -3.628746 6.248122 -1.852178 6.984 0 6.984 z " transform="translate(445.464 223.344)" style="fill: #ff0000"/> </g> </g> <g id="line2d_102"> <g clip-path="url(#p5d5865114e)"> <path d="M 0 6.984 C 1.852178 6.984 3.628746 6.248122 4.938434 4.938434 C 6.248122 3.628746 6.984 1.852178 6.984 0 C 6.984 -1.852178 6.248122 -3.628746 4.938434 -4.938434 C 3.628746 -6.248122 1.852178 -6.984 0 -6.984 C -1.852178 -6.984 -3.628746 -6.248122 -4.938434 -4.938434 C -6.248122 -3.628746 -6.984 -1.852178 -6.984 0 C -6.984 1.852178 -6.248122 3.628746 -4.938434 4.938434 C -3.628746 6.248122 -1.852178 6.984 0 6.984 z " transform="translate(483.696 243.36)" style="fill: #0000ff"/> </g> </g> <g id="line2d_103"> <g clip-path="url(#p5d5865114e)"> <path d="M 0 4.824 C 1.27934 4.824 2.506453 4.315713 3.411083 3.411083 C 4.315713 2.506453 4.824 1.27934 4.824 0 C 4.824 -1.27934 4.315713 -2.506453 3.411083 -3.411083 C 2.506453 -4.315713 1.27934 -4.824 0 -4.824 C -1.27934 -4.824 -2.506453 -4.315713 -3.411083 -3.411083 C -4.315713 -2.506453 -4.824 -1.27934 -4.824 0 C -4.824 1.27934 -4.315713 2.506453 -3.411083 3.411083 C -2.506453 4.315713 -1.27934 4.824 0 4.824 z " transform="translate(211.248 232.56)"/> <path d="M 0 4.824 C 1.27934 4.824 2.506453 4.315713 3.411083 3.411083 C 4.315713 2.506453 4.824 1.27934 4.824 0 C 4.824 -1.27934 4.315713 -2.506453 3.411083 -3.411083 C 2.506453 -4.315713 1.27934 -4.824 0 -4.824 C -1.27934 -4.824 -2.506453 -4.315713 -3.411083 -3.411083 C -4.315713 -2.506453 -4.824 -1.27934 -4.824 0 C -4.824 1.27934 -4.315713 2.506453 -3.411083 3.411083 C -2.506453 4.315713 -1.27934 4.824 0 4.824 z " transform="translate(255.096 240.552)"/> <path d="M 0 4.824 C 1.27934 4.824 2.506453 4.315713 3.411083 3.411083 C 4.315713 2.506453 4.824 1.27934 4.824 0 C 4.824 -1.27934 4.315713 -2.506453 3.411083 -3.411083 C 2.506453 -4.315713 1.27934 -4.824 0 -4.824 C -1.27934 -4.824 -2.506453 -4.315713 -3.411083 -3.411083 C -4.315713 -2.506453 -4.824 -1.27934 -4.824 0 C -4.824 1.27934 -4.315713 2.506453 -3.411083 3.411083 C -2.506453 4.315713 -1.27934 4.824 0 4.824 z " transform="translate(329.976 213.984)"/> <path d="M 0 4.824 C 1.27934 4.824 2.506453 4.315713 3.411083 3.411083 C 4.315713 2.506453 4.824 1.27934 4.824 0 C 4.824 -1.27934 4.315713 -2.506453 3.411083 -3.411083 C 2.506453 -4.315713 1.27934 -4.824 0 -4.824 C -1.27934 -4.824 -2.506453 -4.315713 -3.411083 -3.411083 C -4.315713 -2.506453 -4.824 -1.27934 -4.824 0 C -4.824 1.27934 -4.315713 2.506453 -3.411083 3.411083 C -2.506453 4.315713 -1.27934 4.824 0 4.824 z " transform="translate(388.656 249.336)"/> <path d="M 0 4.824 C 1.27934 4.824 2.506453 4.315713 3.411083 3.411083 C 4.315713 2.506453 4.824 1.27934 4.824 0 C 4.824 -1.27934 4.315713 -2.506453 3.411083 -3.411083 C 2.506453 -4.315713 1.27934 -4.824 0 -4.824 C -1.27934 -4.824 -2.506453 -4.315713 -3.411083 -3.411083 C -4.315713 -2.506453 -4.824 -1.27934 -4.824 0 C -4.824 1.27934 -4.315713 2.506453 -3.411083 3.411083 C -2.506453 4.315713 -1.27934 4.824 0 4.824 z " transform="translate(365.04 277.56)"/> <path d="M 0 4.824 C 1.27934 4.824 2.506453 4.315713 3.411083 3.411083 C 4.315713 2.506453 4.824 1.27934 4.824 0 C 4.824 -1.27934 4.315713 -2.506453 3.411083 -3.411083 C 2.506453 -4.315713 1.27934 -4.824 0 -4.824 C -1.27934 -4.824 -2.506453 -4.315713 -3.411083 -3.411083 C -4.315713 -2.506453 -4.824 -1.27934 -4.824 0 C -4.824 1.27934 -4.315713 2.506453 -3.411083 3.411083 C -2.506453 4.315713 -1.27934 4.824 0 4.824 z " transform="translate(353.016 293.4)"/> <path d="M 0 4.824 C 1.27934 4.824 2.506453 4.315713 3.411083 3.411083 C 4.315713 2.506453 4.824 1.27934 4.824 0 C 4.824 -1.27934 4.315713 -2.506453 3.411083 -3.411083 C 2.506453 -4.315713 1.27934 -4.824 0 -4.824 C -1.27934 -4.824 -2.506453 -4.315713 -3.411083 -3.411083 C -4.315713 -2.506453 -4.824 -1.27934 -4.824 0 C -4.824 1.27934 -4.315713 2.506453 -3.411083 3.411083 C -2.506453 4.315713 -1.27934 4.824 0 4.824 z " transform="translate(331.272 308.88)"/> <path d="M 0 4.824 C 1.27934 4.824 2.506453 4.315713 3.411083 3.411083 C 4.315713 2.506453 4.824 1.27934 4.824 0 C 4.824 -1.27934 4.315713 -2.506453 3.411083 -3.411083 C 2.506453 -4.315713 1.27934 -4.824 0 -4.824 C -1.27934 -4.824 -2.506453 -4.315713 -3.411083 -3.411083 C -4.315713 -2.506453 -4.824 -1.27934 -4.824 0 C -4.824 1.27934 -4.315713 2.506453 -3.411083 3.411083 C -2.506453 4.315713 -1.27934 4.824 0 4.824 z " transform="translate(315.432 321.264)"/> <path d="M 0 4.824 C 1.27934 4.824 2.506453 4.315713 3.411083 3.411083 C 4.315713 2.506453 4.824 1.27934 4.824 0 C 4.824 -1.27934 4.315713 -2.506453 3.411083 -3.411083 C 2.506453 -4.315713 1.27934 -4.824 0 -4.824 C -1.27934 -4.824 -2.506453 -4.315713 -3.411083 -3.411083 C -4.315713 -2.506453 -4.824 -1.27934 -4.824 0 C -4.824 1.27934 -4.315713 2.506453 -3.411083 3.411083 C -2.506453 4.315713 -1.27934 4.824 0 4.824 z " transform="translate(351.144 306.576)"/> <path d="M 0 4.824 C 1.27934 4.824 2.506453 4.315713 3.411083 3.411083 C 4.315713 2.506453 4.824 1.27934 4.824 0 C 4.824 -1.27934 4.315713 -2.506453 3.411083 -3.411083 C 2.506453 -4.315713 1.27934 -4.824 0 -4.824 C -1.27934 -4.824 -2.506453 -4.315713 -3.411083 -3.411083 C -4.315713 -2.506453 -4.824 -1.27934 -4.824 0 C -4.824 1.27934 -4.315713 2.506453 -3.411083 3.411083 C -2.506453 4.315713 -1.27934 4.824 0 4.824 z " transform="translate(419.832 281.016)"/> <path d="M 0 4.824 C 1.27934 4.824 2.506453 4.315713 3.411083 3.411083 C 4.315713 2.506453 4.824 1.27934 4.824 0 C 4.824 -1.27934 4.315713 -2.506453 3.411083 -3.411083 C 2.506453 -4.315713 1.27934 -4.824 0 -4.824 C -1.27934 -4.824 -2.506453 -4.315713 -3.411083 -3.411083 C -4.315713 -2.506453 -4.824 -1.27934 -4.824 0 C -4.824 1.27934 -4.315713 2.506453 -3.411083 3.411083 C -2.506453 4.315713 -1.27934 4.824 0 4.824 z " transform="translate(435.384 293.76)"/> <path d="M 0 4.824 C 1.27934 4.824 2.506453 4.315713 3.411083 3.411083 C 4.315713 2.506453 4.824 1.27934 4.824 0 C 4.824 -1.27934 4.315713 -2.506453 3.411083 -3.411083 C 2.506453 -4.315713 1.27934 -4.824 0 -4.824 C -1.27934 -4.824 -2.506453 -4.315713 -3.411083 -3.411083 C -4.315713 -2.506453 -4.824 -1.27934 -4.824 0 C -4.824 1.27934 -4.315713 2.506453 -3.411083 3.411083 C -2.506453 4.315713 -1.27934 4.824 0 4.824 z " transform="translate(436.176 316.8)"/> <path d="M 0 4.824 C 1.27934 4.824 2.506453 4.315713 3.411083 3.411083 C 4.315713 2.506453 4.824 1.27934 4.824 0 C 4.824 -1.27934 4.315713 -2.506453 3.411083 -3.411083 C 2.506453 -4.315713 1.27934 -4.824 0 -4.824 C -1.27934 -4.824 -2.506453 -4.315713 -3.411083 -3.411083 C -4.315713 -2.506453 -4.824 -1.27934 -4.824 0 C -4.824 1.27934 -4.315713 2.506453 -3.411083 3.411083 C -2.506453 4.315713 -1.27934 4.824 0 4.824 z " transform="translate(458.712 255.6)"/> <path d="M 0 4.824 C 1.27934 4.824 2.506453 4.315713 3.411083 3.411083 C 4.315713 2.506453 4.824 1.27934 4.824 0 C 4.824 -1.27934 4.315713 -2.506453 3.411083 -3.411083 C 2.506453 -4.315713 1.27934 -4.824 0 -4.824 C -1.27934 -4.824 -2.506453 -4.315713 -3.411083 -3.411083 C -4.315713 -2.506453 -4.824 -1.27934 -4.824 0 C -4.824 1.27934 -4.315713 2.506453 -3.411083 3.411083 C -2.506453 4.315713 -1.27934 4.824 0 4.824 z " transform="translate(514.8 307.44)"/> <path d="M 0 4.824 C 1.27934 4.824 2.506453 4.315713 3.411083 3.411083 C 4.315713 2.506453 4.824 1.27934 4.824 0 C 4.824 -1.27934 4.315713 -2.506453 3.411083 -3.411083 C 2.506453 -4.315713 1.27934 -4.824 0 -4.824 C -1.27934 -4.824 -2.506453 -4.315713 -3.411083 -3.411083 C -4.315713 -2.506453 -4.824 -1.27934 -4.824 0 C -4.824 1.27934 -4.315713 2.506453 -3.411083 3.411083 C -2.506453 4.315713 -1.27934 4.824 0 4.824 z " transform="translate(584.424 206.928)"/> </g> </g> <g id="line2d_104"> <path d="M 171.144 123.984 L 282.6 82.8 L 468.36 100.944 L 496.8 101.448 L 525.6 101.952 L 576 102.168 L 664.704 102.96 " clip-path="url(#p5d5865114e)" style="fill: none; stroke: #808080; stroke-opacity: 0.5; stroke-width: 4.104"/> </g> <g id="line2d_105"> <path d="M 137.088 432 L 468.36 100.944 L 496.8 102.888 L 525.6 104.328 L 576 105.84 L 687.6 108 " clip-path="url(#p5d5865114e)" style="fill: none; stroke: #808080; stroke-opacity: 0.5; stroke-width: 4.104"/> </g> <g id="line2d_106"> <path d="M 377.424 432 L 502.92 127.8 L 596.88 106.704 L 687.6 108.216 " clip-path="url(#p5d5865114e)" style="fill: none; stroke: #808080; stroke-opacity: 0.5; stroke-width: 4.104"/> </g> <g id="line2d_107"> <path d="M 485.64 432 L 577.872 146.16 L 684.288 106.344 " clip-path="url(#p5d5865114e)" style="fill: none; stroke: #808080; stroke-opacity: 0.5; stroke-width: 4.104"/> </g> <g id="text_11"> <g transform="translate(237.096 71.64)"> <text> <tspan x="0" y="-0.242188" style="font-style: oblique; font-size: 20.8px; font-family: 'DejaVu Sans', sans-serif">Q</tspan> <tspan x="16.33252" y="-0.242188" style="font-size: 20.8px; font-family: 'DejaVu Sans', sans-serif"> </tspan> <tspan x="22.928345" y="-0.242188" style="font-size: 20.8px; font-family: 'DejaVu Sans', sans-serif">=</tspan> <tspan x="40.314575" y="-0.242188" style="font-size: 20.8px; font-family: 'DejaVu Sans', sans-serif"> </tspan> <tspan x="46.9104" y="-0.242188" style="font-size: 20.8px; font-family: 'DejaVu Sans', sans-serif">6</tspan> <tspan x="60.112183" y="-0.242188" style="font-size: 20.8px; font-family: 'DejaVu Sans', sans-serif">x</tspan> <tspan x="72.391968" y="-0.242188" style="font-size: 20.8px; font-family: 'DejaVu Sans', sans-serif">1</tspan> <tspan x="85.59375" y="-0.242188" style="font-size: 20.8px; font-family: 'DejaVu Sans', sans-serif">0</tspan> <tspan x="98.996509" y="-8.28125" style="font-size: 14.56px; font-family: 'DejaVu Sans', sans-serif">−</tspan> <tspan x="111.16687" y="-8.28125" style="font-size: 14.56px; font-family: 'DejaVu Sans', sans-serif">4</tspan> </text> </g> </g> <g id="text_12"> <g transform="translate(387.36 174.888) rotate(-45)"> <text> <tspan x="0" y="-0.242188" style="font-size: 20.8px; font-family: 'DejaVu Sans', sans-serif">6</tspan> <tspan x="13.201782" y="-0.242188" style="font-size: 20.8px; font-family: 'DejaVu Sans', sans-serif">x</tspan> <tspan x="25.481567" y="-0.242188" style="font-size: 20.8px; font-family: 'DejaVu Sans', sans-serif">1</tspan> <tspan x="38.68335" y="-0.242188" style="font-size: 20.8px; font-family: 'DejaVu Sans', sans-serif">0</tspan> <tspan x="52.086108" y="-8.28125" style="font-size: 14.56px; font-family: 'DejaVu Sans', sans-serif">−</tspan> <tspan x="64.25647" y="-8.28125" style="font-size: 14.56px; font-family: 'DejaVu Sans', sans-serif">5</tspan> </text> </g> </g> <g id="text_13"> <g transform="translate(461.304 186.624) rotate(-65)"> <text> <tspan x="0" y="-0.045313" style="font-size: 20.8px; font-family: 'DejaVu Sans', sans-serif">6</tspan> <tspan x="13.201782" y="-0.045313" style="font-size: 20.8px; font-family: 'DejaVu Sans', sans-serif">x</tspan> <tspan x="25.481567" y="-0.045313" style="font-size: 20.8px; font-family: 'DejaVu Sans', sans-serif">1</tspan> <tspan x="38.68335" y="-0.045313" style="font-size: 20.8px; font-family: 'DejaVu Sans', sans-serif">0</tspan> <tspan x="52.086108" y="-8.084375" style="font-size: 14.56px; font-family: 'DejaVu Sans', sans-serif">−</tspan> <tspan x="64.25647" y="-8.084375" style="font-size: 14.56px; font-family: 'DejaVu Sans', sans-serif">6</tspan> </text> </g> </g> <g id="text_14"> <text style="font-size: 20.8px; font-family: 'DejaVu Sans', sans-serif; text-anchor: start" x="559.44" y="188.28" transform="rotate(-73.5 559.44 188.28)">0.0</text> </g> <g id="legend_1"> <g id="patch_38"> <path d="M 611.120415 87.190298 L 722.584 87.190298 Q 725.384 87.190298 725.384 84.390298 L 725.384 25.136 Q 725.384 22.336 722.584 22.336 L 611.120415 22.336 Q 608.320415 22.336 608.320415 25.136 L 608.320415 84.390298 Q 608.320415 87.190298 611.120415 87.190298 z " style="fill: #ffffff; stroke: #c7c7c7; stroke-width: 1.44; stroke-linejoin: miter"/> </g> <g id="line2d_108"> <g> <path d="M 0 5.04 C 1.336624 5.04 2.618683 4.508954 3.563818 3.563818 C 4.508954 2.618683 5.04 1.336624 5.04 0 C 5.04 -1.336624 4.508954 -2.618683 3.563818 -3.563818 C 2.618683 -4.508954 1.336624 -5.04 0 -5.04 C -1.336624 -5.04 -2.618683 -4.508954 -3.563818 -3.563818 C -4.508954 -2.618683 -5.04 -1.336624 -5.04 0 C -5.04 1.336624 -4.508954 2.618683 -3.563818 3.563818 C -2.618683 4.508954 -1.336624 5.04 0 5.04 z " transform="translate(627.920415 34.825812)"/> </g> </g> <g id="text_15"> <text style="font-size: 14px; font-family: 'DejaVu Sans', sans-serif; text-anchor: start" x="652.40025" y="38.573812" transform="rotate(-0 652.40025 38.573812)">ALMASOP</text> </g> <g id="LineCollection_3"> <path d="M 620.920415 53.726274 L 634.920415 53.726274 " style="fill: none; stroke: #ff0000; stroke-width: 2.016"/> </g> <g id="line2d_109"> <g> <path d="M 0 5.58 L 0 -5.58 " transform="translate(620.920415 53.726274)" style="fill: #ff0000; stroke: #ff0000; stroke-width: 2.016"/> </g> </g> <g id="line2d_110"> <g> <path d="M 0 5.58 L 0 -5.58 " transform="translate(634.920415 53.726274)" style="fill: #ff0000; stroke: #ff0000; stroke-width: 2.016"/> </g> </g> <g id="line2d_111"/> <g id="line2d_112"> <g> <path d="M 0 6.984 C 1.852178 6.984 3.628746 6.248122 4.938434 4.938434 C 6.248122 3.628746 6.984 1.852178 6.984 0 C 6.984 -1.852178 6.248122 -3.628746 4.938434 -4.938434 C 3.628746 -6.248122 1.852178 -6.984 0 -6.984 C -1.852178 -6.984 -3.628746 -6.248122 -4.938434 -4.938434 C -6.248122 -3.628746 -6.984 -1.852178 -6.984 0 C -6.984 1.852178 -6.248122 3.628746 -4.938434 4.938434 C -3.628746 6.248122 -1.852178 6.984 0 6.984 z " transform="translate(627.920415 53.726274)" style="fill: #ff0000"/> </g> </g> <g id="text_16"> <text style="font-size: 14px; font-family: 'DejaVu Sans', sans-serif; text-anchor: start" x="652.40025" y="58.626274" transform="rotate(-0 652.40025 58.626274)">HH212</text> </g> <g id="LineCollection_4"> <path d="M 620.920415 73.778735 L 634.920415 73.778735 " style="fill: none; stroke: #0000ff; stroke-width: 2.016"/> </g> <g id="line2d_113"> <g> <path d="M 0 5.58 L 0 -5.58 " transform="translate(620.920415 73.778735)" style="fill: #0000ff; stroke: #0000ff; stroke-width: 2.016"/> </g> </g> <g id="line2d_114"> <g> <path d="M 0 5.58 L 0 -5.58 " transform="translate(634.920415 73.778735)" style="fill: #0000ff; stroke: #0000ff; stroke-width: 2.016"/> </g> </g> <g id="line2d_115"/> <g id="line2d_116"> <g> <path d="M 0 6.984 C 1.852178 6.984 3.628746 6.248122 4.938434 4.938434 C 6.248122 3.628746 6.984 1.852178 6.984 0 C 6.984 -1.852178 6.248122 -3.628746 4.938434 -4.938434 C 3.628746 -6.248122 1.852178 -6.984 0 -6.984 C -1.852178 -6.984 -3.628746 -6.248122 -4.938434 -4.938434 C -6.248122 -3.628746 -6.984 -1.852178 -6.984 0 C -6.984 1.852178 -6.248122 3.628746 -4.938434 4.938434 C -3.628746 6.248122 -1.852178 6.984 0 6.984 z " transform="translate(627.920415 73.778735)" style="fill: #0000ff"/> </g> </g> <g id="text_17"> <text style="font-size: 14px; font-family: 'DejaVu Sans', sans-serif; text-anchor: start" x="652.40025" y="78.678735" transform="rotate(-0 652.40025 78.678735)">HH211</text> </g> </g> </g> </g> <defs> <clipPath id="p5d5865114e"> <rect x="112.32" y="15.336" width="620.064" height="377.352"/> </clipPath> </defs> </svg> 
</body></html>
